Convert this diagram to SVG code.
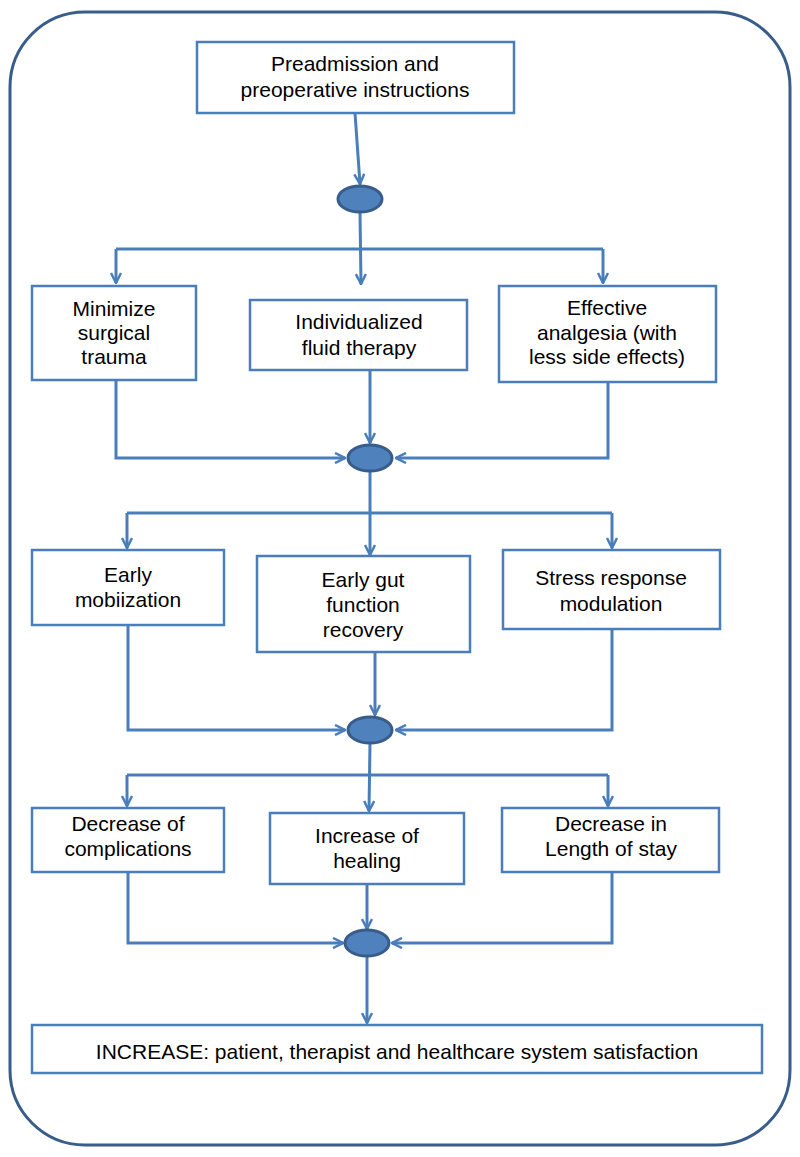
<svg xmlns="http://www.w3.org/2000/svg" width="800" height="1157" viewBox="0 0 800 1157">
<style>
.b{fill:#fff;stroke:#4a7ebb;stroke-width:2.5}
.t{font-family:"Liberation Sans",Arial,sans-serif;font-size:21px;fill:#000;text-anchor:middle}
.c{fill:none;stroke:#4a7ebb;stroke-width:3}
.a{marker-end:url(#ar)}
.e{fill:#4f81bd;stroke:#385d8a;stroke-width:3}
</style>
<defs><marker id="ar" viewBox="0 0 12 12" refX="11" refY="6" markerWidth="12" markerHeight="12" markerUnits="userSpaceOnUse" orient="auto"><path d="M1,1 L11,6 L1,11" fill="none" stroke="#4a7ebb" stroke-width="2.5"/></marker></defs>
<rect x="10" y="12" width="780" height="1133" rx="75" fill="#fff" stroke="#385d8a" stroke-width="3"/>
<g id="connectors">
<path class="c a" d="M355,113 L360,184"/>
<path class="c" d="M116,249 H603"/>
<path class="c a" d="M360,212 L361,284"/>
<path class="c a" d="M116,249 V283"/>
<path class="c a" d="M603,249 V283"/>
<path class="c a" d="M116,380 V458 H345"/>
<path class="c a" d="M370,370 V443"/>
<path class="c a" d="M608,382 V458 H396"/>
<path class="c" d="M127,513 H612"/>
<path class="c a" d="M370,471 V555"/>
<path class="c a" d="M127,513 V548"/>
<path class="c a" d="M612,513 V548"/>
<path class="c a" d="M128,625 V730 H345"/>
<path class="c a" d="M375,652 V715"/>
<path class="c a" d="M612,629 V730 H396"/>
<path class="c" d="M127,775 H608"/>
<path class="c a" d="M370,743 L369,811"/>
<path class="c a" d="M127,775 V806"/>
<path class="c a" d="M608,775 V806"/>
<path class="c a" d="M128,872 V943 H343"/>
<path class="c a" d="M367,884 V929"/>
<path class="c a" d="M612,872 V943 H392"/>
<path class="c a" d="M367,956 V1023"/>
</g>
<g id="j1"><ellipse class="e" cx="360" cy="199" rx="22" ry="13"/></g>
<g id="j2"><ellipse class="e" cx="370" cy="458" rx="22" ry="13"/></g>
<g id="j3"><ellipse class="e" cx="370" cy="730" rx="22" ry="13"/></g>
<g id="j4"><ellipse class="e" cx="367" cy="943" rx="22" ry="13"/></g>
<g id="n0"><rect class="b" x="197" y="42" width="317" height="71"/><text class="t" x="355" y="71">Preadmission and</text><text class="t" x="355" y="97">preoperative instructions</text></g>
<g id="n1"><rect class="b" x="32" y="286" width="164" height="94"/><text class="t" x="114" y="316">Minimize</text><text class="t" x="114" y="340">surgical</text><text class="t" x="114" y="364">trauma</text></g>
<g id="n2"><rect class="b" x="250" y="300" width="217" height="70"/><text class="t" x="359" y="329">Individualized</text><text class="t" x="359" y="355">fluid therapy</text></g>
<g id="n3"><rect class="b" x="499" y="286" width="217" height="96"/><text class="t" x="607" y="315">Effective</text><text class="t" x="607" y="340">analgesia (with</text><text class="t" x="607" y="364">less side effects)</text></g>
<g id="n4"><rect class="b" x="32" y="550" width="192" height="75"/><text class="t" x="128" y="582">Early</text><text class="t" x="128" y="607">mobiization</text></g>
<g id="n5"><rect class="b" x="257" y="556" width="213" height="96"/><text class="t" x="363" y="587">Early gut</text><text class="t" x="363" y="612">function</text><text class="t" x="363" y="637">recovery</text></g>
<g id="n6"><rect class="b" x="503" y="550" width="217" height="79"/><text class="t" x="611" y="585">Stress response</text><text class="t" x="611" y="611">modulation</text></g>
<g id="n7"><rect class="b" x="32" y="808" width="192" height="64"/><text class="t" x="128" y="831">Decrease of</text><text class="t" x="128" y="856">complications</text></g>
<g id="n8"><rect class="b" x="270" y="813" width="194" height="71"/><text class="t" x="367" y="843">Increase of</text><text class="t" x="367" y="868">healing</text></g>
<g id="n9"><rect class="b" x="502" y="808" width="217" height="64"/><text class="t" x="611" y="831">Decrease in</text><text class="t" x="611" y="856">Length of stay</text></g>
<g id="n10"><rect class="b" x="32" y="1025" width="730" height="48"/><text class="t" x="397" y="1059">INCREASE: patient, therapist and healthcare system satisfaction</text></g>
</svg>
